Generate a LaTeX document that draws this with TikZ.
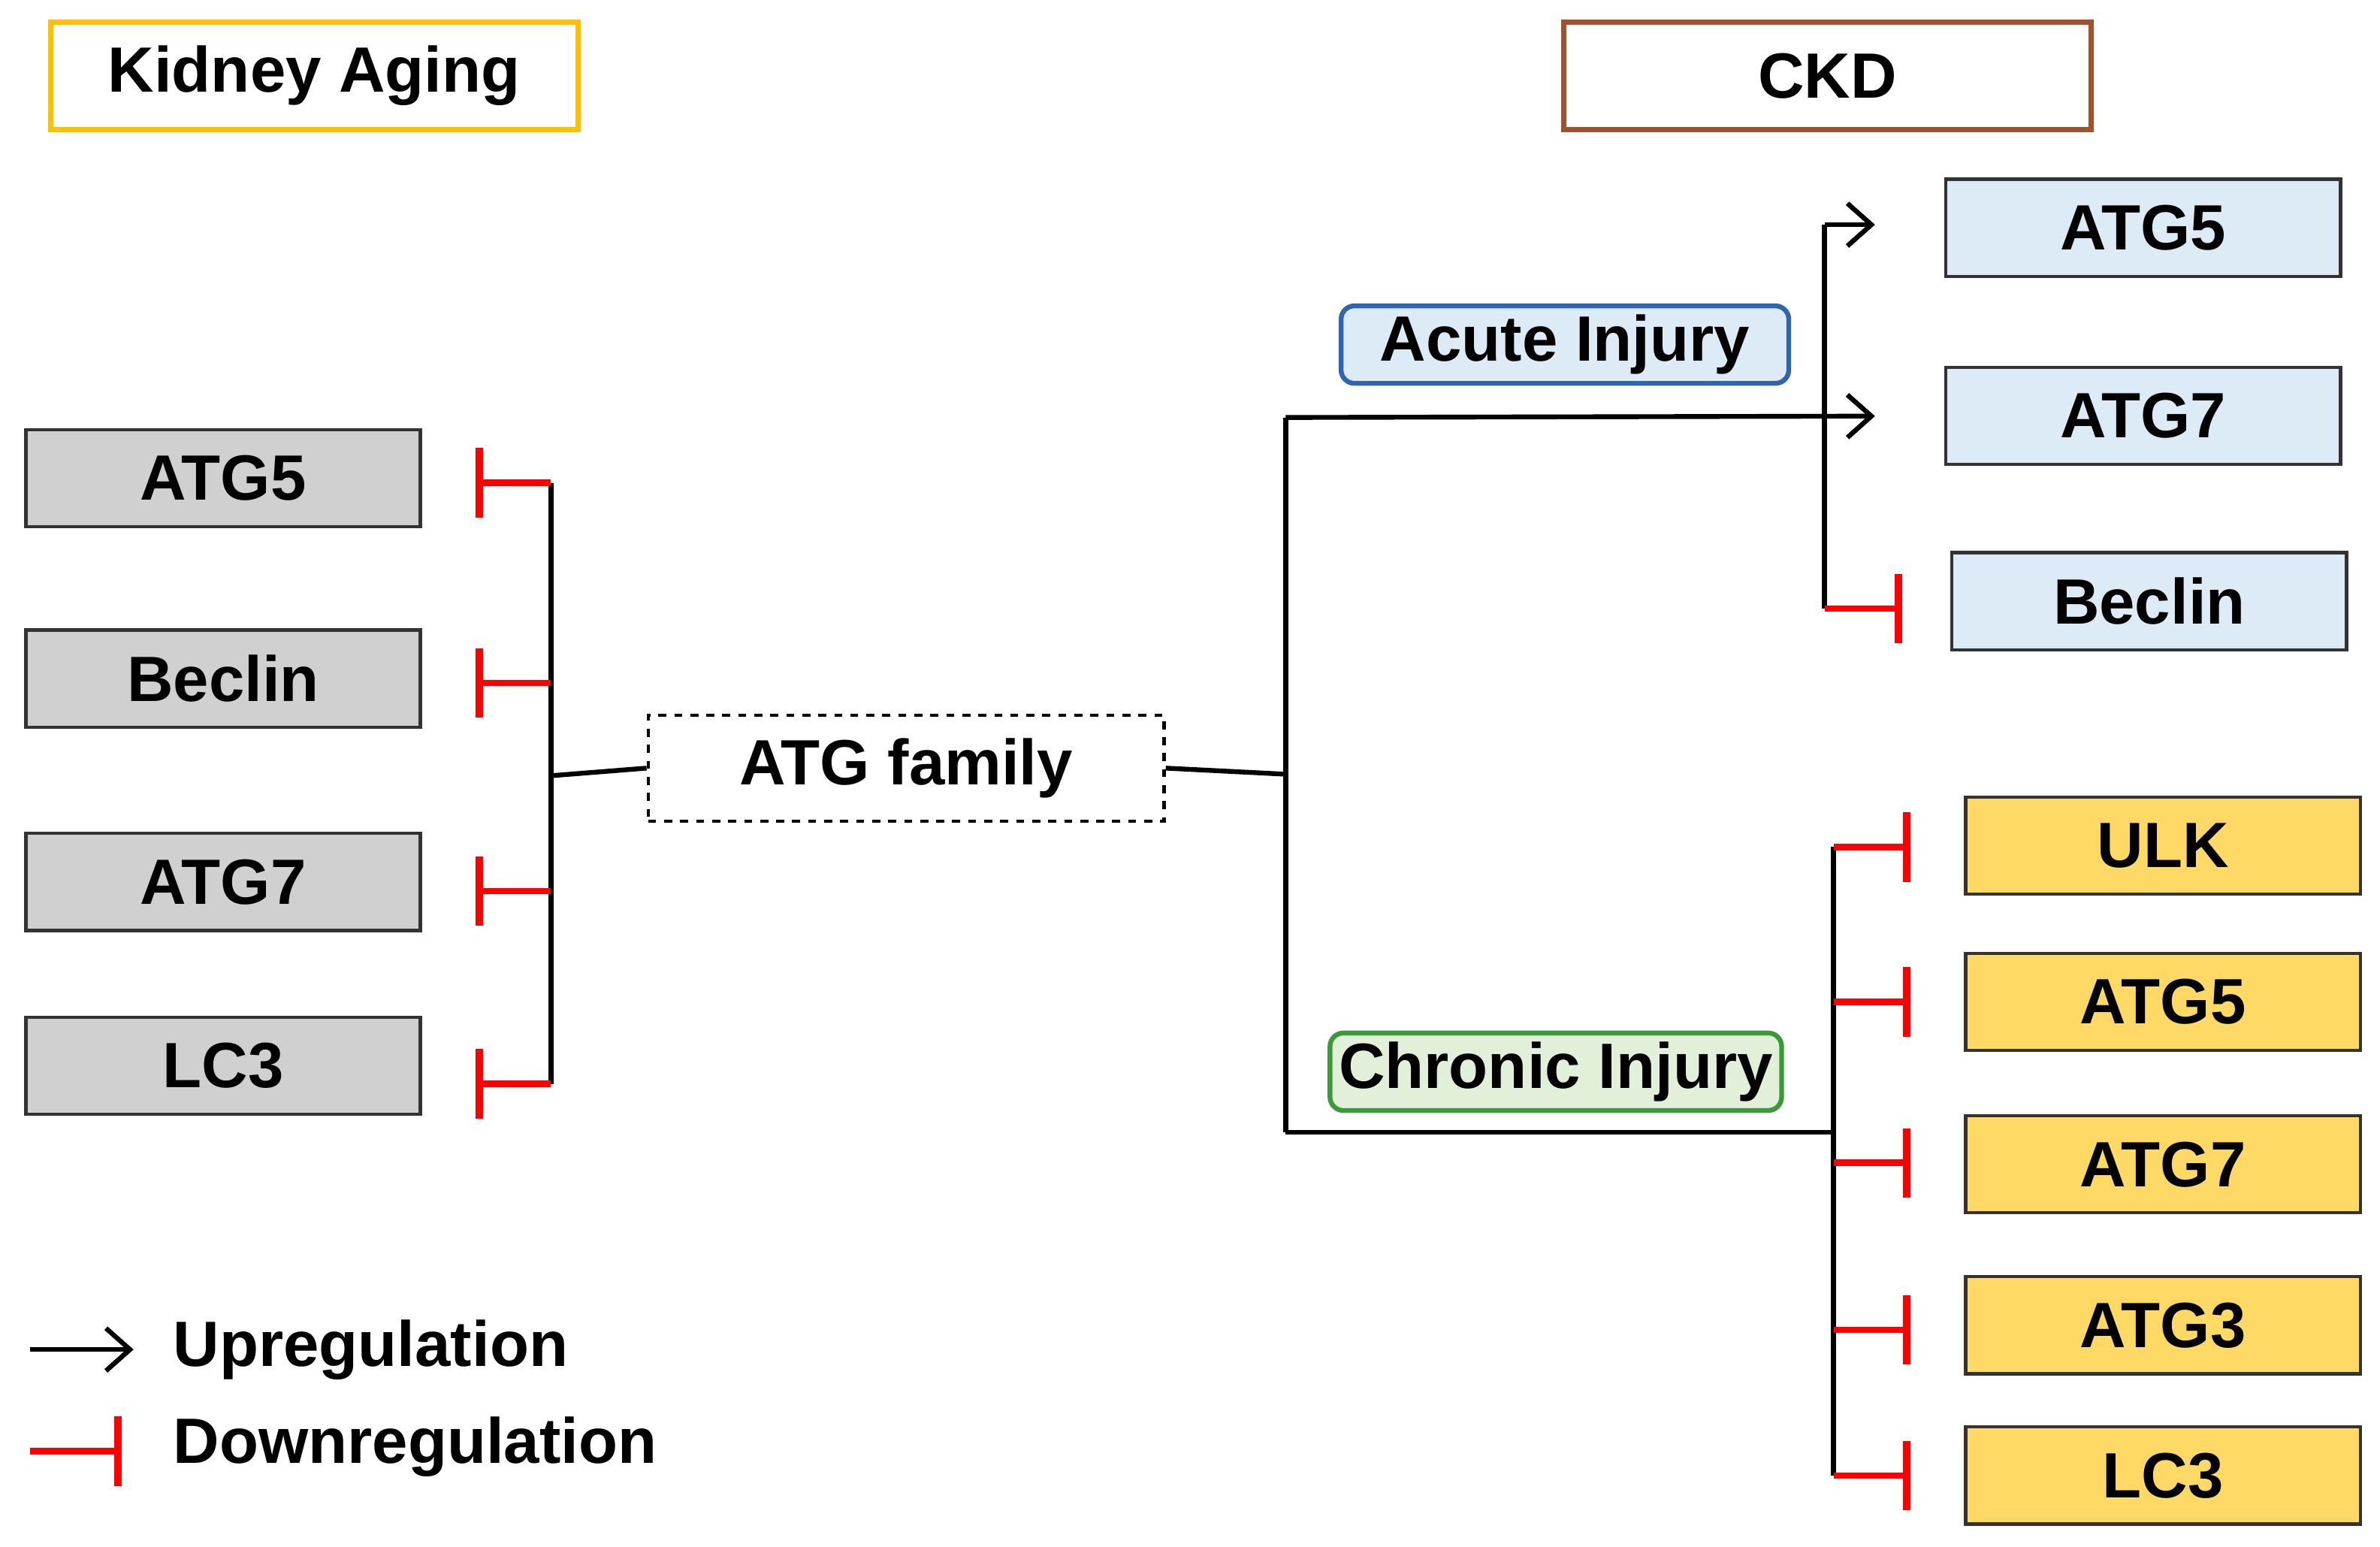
\documentclass[tikz,border=0pt]{standalone}
\usepackage{fontspec}
\setmainfont{Liberation Sans}
\usetikzlibrary{arrows.meta,positioning}

\definecolor{agegold}{HTML}{FFC000}
\definecolor{ckdbrown}{HTML}{A0522D}
\definecolor{boxgray}{HTML}{D0D0D0}
\definecolor{acuteblue}{HTML}{DDEBF7}
\definecolor{acuteline}{HTML}{2E64B0}
\definecolor{chrgreen}{HTML}{E2F0D9}
\definecolor{chrline}{HTML}{3A9A3A}
\definecolor{chryellow}{HTML}{FFD966}

\tikzset{
    gene/.style={draw=black!80, line width=1.2pt, minimum width=5.2cm,
                 minimum height=1.28cm, font=\fontsize{24}{28}\selectfont\bfseries},
    title/.style={draw, line width=2pt, minimum width=6.95cm,
                  minimum height=1.42cm, font=\fontsize{24}{28}\selectfont\bfseries},
    injury/.style={draw, rounded corners=5pt, line width=1.8pt, minimum width=5.9cm,
                   minimum height=0.95cm, font=\fontsize{24}{28}\selectfont\bfseries},
    link/.style={line width=1.8pt},
    up/.style={link, -{Straight Barb[length=9pt,width=16pt,line width=1.8pt]}},
    down/.style={red, line width=2.4pt, -{Bar[width=26pt,line width=2.8pt]}},
    lbl/.style={font=\fontsize{24}{28}\selectfont\bfseries, anchor=west}
}

\begin{document}
\begin{tikzpicture}[x=0.02cm,y=-0.02cm]
\useasboundingbox (0,0) rectangle (1568,1019);

%titles
\node[title, draw=agegold] (aging) at (207,50) {Kidney Aging};
\node[title, draw=ckdbrown] (ckd) at (1204,50) {CKD};

%left genes
\node[gene, fill=boxgray] (la5) at (147,315) {ATG5};
\node[gene, fill=boxgray] (lbec) at (147,447) {Beclin};
\node[gene, fill=boxgray] (la7) at (147,581) {ATG7};
\node[gene, fill=boxgray] (llc3) at (147,702) {LC3};

%centre
\node[draw, dashed, line width=1.2pt, minimum width=6.8cm, minimum height=1.4cm,
      font=\fontsize{24}{28}\selectfont\bfseries] (atg) at (597,506) {ATG family};

%left bracket
\coordinate (lt) at (363,318);
\coordinate (lb) at (363,714);
\coordinate (lm) at (363,511);
\draw[link] (lt) -- (lb);
\draw[link] (lm) -- (atg.west);
\foreach \g/\y in {la5/318, lbec/450, la7/587, llc3/714}
    \draw[down, shorten >=20pt] (363,\y) -- (\g.east |- 0,\y);

%right trunk
\coordinate (rt) at (847,275);
\coordinate (rb) at (847,746);
\draw[link] (atg.east) -- (847,510);
\draw[link] (rt) -- (rb);

%acute injury
\node[injury, draw=acuteline, fill=acuteblue] (acute) at (1031,227) {Acute Injury};
\node[gene, fill=acuteblue] (ra5) at (1412,150) {ATG5};
\node[gene, fill=acuteblue] (ra7) at (1412,274) {ATG7};
\node[gene, fill=acuteblue] (rbec) at (1416,396) {Beclin};
\coordinate (at) at (1202,148);
\coordinate (ab) at (1202,401);
\draw[link] (at) -- (ab);
\draw[up, shorten >=26pt] (rt) -- (ra7.west);
\draw[up, shorten >=26pt] (at) -- (ra5.west |- at);
\draw[down, shorten >=18pt] (ab) -- (rbec.west |- ab);

%chronic injury
\node[injury, draw=chrline, fill=chrgreen] (chronic) at (1025,706) {Chronic Injury};
\node[gene, fill=chryellow] (culk) at (1425,557) {ULK};
\node[gene, fill=chryellow] (ca5) at (1425,660) {ATG5};
\node[gene, fill=chryellow] (ca7) at (1425,767) {ATG7};
\node[gene, fill=chryellow] (ca3) at (1425,873) {ATG3};
\node[gene, fill=chryellow] (clc3) at (1425,972) {LC3};
\coordinate (ct) at (1208,558);
\coordinate (cb) at (1208,972);
\draw[link] (ct) -- (cb);
\draw[link] (rb) -- (1208,746);
\foreach \g/\y in {culk/558, ca5/660, ca7/766, ca3/876, clc3/972}
    \draw[down, shorten >=20pt] (1208,\y) -- (\g.west |- 0,\y);

%legend
\coordinate (ua) at (20,889);
\coordinate (ub) at (88,889);
\coordinate (da) at (20,956);
\coordinate (db) at (80,956);
\draw[up] (ua) -- (ub);
\draw[down] (da) -- (db);
\node[lbl] (uplbl) at (108,889) {Upregulation};
\node[lbl] (downlbl) at (108,953) {Downregulation};
\end{tikzpicture}
\end{document}
